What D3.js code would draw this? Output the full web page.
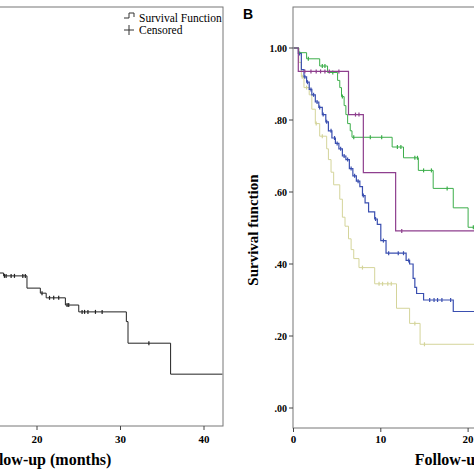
<!DOCTYPE html><html><head><meta charset="utf-8"><script src="https://cdn.jsdelivr.net/npm/d3@7"></script>
<style>body{margin:0;background:#fff}text{font-family:"Liberation Serif","Times New Roman",serif;font-weight:bold}</style></head><body>
<svg id="c" width="474" height="474"></svg>
<script>
// Panel A (overall survival) steps: [month, survival]
const stepsA=[[0,0.375],[16,0.367],[18.8,0.333],[20.4,0.319],[21.1,0.306],[21.3,0.306],[23.4,0.286],[25,0.267],[30.7,0.24],[30.9,0.18],[36,0.094]];
const censA=[16.1,16.3,16.9,17.3,18.3,18.6,20.6,21.5,22.0,22.6,23.6,23.8,25.4,25.7,26.1,27.0,27.8,33.4];
// Panel B groups
const purple=[[0,1],[0.55,0.935],[6.3,0.815],[8.0,0.654],[11.7,0.492]];
const censPurple=[1.3,2,2.6,3.1,3.6,4.1,5.2,7.1,7.5,12.4];
const green=[[0,1],[0.6,0.987],[1.5,0.97],[3.0,0.95],[3.9,0.932],[5.05,0.91],[5.3,0.89],[5.5,0.865],[5.8,0.84],[6.0,0.815],[6.2,0.79],[6.5,0.77],[6.7,0.752],[11.3,0.725],[12.6,0.695],[14.3,0.66],[16.0,0.61],[18.3,0.556],[20.0,0.502]];
const censGreen=[1.7,3.3,3.6,4.5,5.6,6.9,8.8,10.1,11.9,12.3,13.9,14.2,14.9,15.8,17.6,20.6];
const blue=[[0,1],[0.55,0.985],[0.9,0.94],[1.2,0.92],[1.5,0.905],[1.8,0.885],[2.1,0.87],[2.5,0.85],[2.9,0.835],[3.3,0.815],[3.7,0.795],[4.0,0.77],[4.4,0.75],[4.8,0.735],[5.2,0.72],[5.6,0.70],[6.0,0.69],[6.4,0.665],[6.8,0.645],[7.2,0.63],[7.6,0.615],[7.9,0.59],[8.2,0.57],[8.6,0.545],[9.3,0.525],[9.6,0.51],[10.0,0.465],[10.6,0.43],[12.9,0.41],[13.3,0.40],[13.7,0.36],[13.9,0.335],[14.1,0.318],[14.9,0.30],[18.3,0.268]];
const censBlue=[0.7,1.3,1.6,2.0,2.3,2.7,3.0,3.4,3.8,4.3,4.7,5.0,5.4,5.8,6.2,6.6,7.0,7.4,8.0,9.4,10.3,10.9,12.0,12.6,13.2,15.6,16.1,16.5,17.0,18.0];
const yellow=[[0,1],[0.6,0.96],[0.9,0.92],[1.2,0.89],[1.8,0.87],[2.1,0.83],[2.5,0.79],[3.0,0.755],[3.8,0.72],[4.0,0.69],[4.3,0.655],[4.6,0.62],[5.3,0.58],[5.6,0.53],[5.9,0.505],[6.3,0.47],[6.6,0.44],[6.9,0.415],[7.5,0.39],[9.3,0.345],[11.8,0.277],[13.3,0.235],[14.5,0.177]];
const censYellow=[1.0,1.5,2.6,3.3,7.9,9.8,10.2,10.8,11.2,13.9,15.0];
const yTicks=[0,0.2,0.4,0.6,0.8,1.0];
const xTicksA=[20,30,40], xTicksB=[0,10,20];

const svg=d3.select("#c");
const y=d3.scaleLinear().domain([0,1]).range([408,48]);
const xA=d3.scaleLinear().domain([0,10]).range([-130,-46.5]);
const xB=d3.scaleLinear().domain([0,10]).range([293.5,380.8]);
function valAt(s,t){let v=s[0][1];for(const p of s){if(p[0]<=t)v=p[1];}return v;}
function drawCurve(s,cens,x,end,color,w){
  const pts=[];s.forEach((p,i)=>{if(i>0)pts.push([p[0],s[i-1][1]]);pts.push(p);});pts.push([end,s[s.length-1][1]]);
  svg.append("path").attr("d",d3.line().x(d=>x(d[0])).y(d=>y(d[1]))(pts)).attr("fill","none").attr("stroke",color).attr("stroke-width",w);
  cens.forEach(t=>{const v=valAt(s,t);svg.append("line").attr("x1",x(t)).attr("x2",x(t)).attr("y1",y(v)-2).attr("y2",y(v)+2).attr("stroke",color).attr("stroke-width",1.2);});
}
// Panel A frame
svg.append("rect").attr("x",-5).attr("y",7).attr("width",228).attr("height",419).attr("fill","none").attr("stroke","#777");
drawCurve(stepsA,censA,xA,42.2,"#222",1);
xTicksA.forEach(t=>{svg.append("line").attr("x1",xA(t)).attr("x2",xA(t)).attr("y1",426).attr("y2",430).attr("stroke","#444");
 svg.append("text").attr("x",xA(t)).attr("y",443).attr("text-anchor","middle").attr("font-size",11).text(t);});
svg.append("text").attr("x",44).attr("y",465).attr("text-anchor","middle").attr("font-size",16).text("Follow-up (months)");
// legend
svg.append("path").attr("d","M124,18 h5 v-5 h5 v4").attr("fill","none").attr("stroke","#333");
svg.append("text").attr("x",139).attr("y",22).attr("font-size",11.5).style("font-weight","normal").text("Survival Function");
svg.append("path").attr("d","M124,30 h10 M129,25 v10").attr("stroke","#333");
svg.append("text").attr("x",139).attr("y",34).attr("font-size",11.5).style("font-weight","normal").text("Censored");
// Panel B
svg.append("rect").attr("x",293).attr("y",7).attr("width",190).attr("height",421).attr("fill","none").attr("stroke","#777");
svg.append("text").attr("x",243).attr("y",19).attr("font-size",14).style("font-family","Liberation Sans,Arial,sans-serif").text("B");
yTicks.forEach(t=>{svg.append("line").attr("x1",289).attr("x2",293).attr("y1",y(t)).attr("y2",y(t)).attr("stroke","#444");
 svg.append("text").attr("x",287).attr("y",y(t)+3.5).attr("text-anchor","end").attr("font-size",10).text(t===1?"1.00":d3.format(".2f")(t).replace(/^0/,""));});
xTicksB.forEach(t=>{svg.append("line").attr("x1",xB(t)).attr("x2",xB(t)).attr("y1",428).attr("y2",432).attr("stroke","#444");
 svg.append("text").attr("x",xB(t)).attr("y",443).attr("text-anchor","middle").attr("font-size",11).text(t);});
svg.append("text").attr("transform","translate(258,230) rotate(-90)").attr("text-anchor","middle").attr("font-size",15).text("Survival function");
svg.append("text").attr("x",482).attr("y",465).attr("text-anchor","middle").attr("font-size",16).text("Follow-up (months)");
drawCurve(yellow,censYellow,xB,25,"#d4d49a",1);
drawCurve(blue,censBlue,xB,25,"#3a4fb0",1.2);
drawCurve(green,censGreen,xB,25,"#3cae4a",1);
drawCurve(purple,censPurple,xB,25,"#8e3f8e",1.2);
</script></body></html>
